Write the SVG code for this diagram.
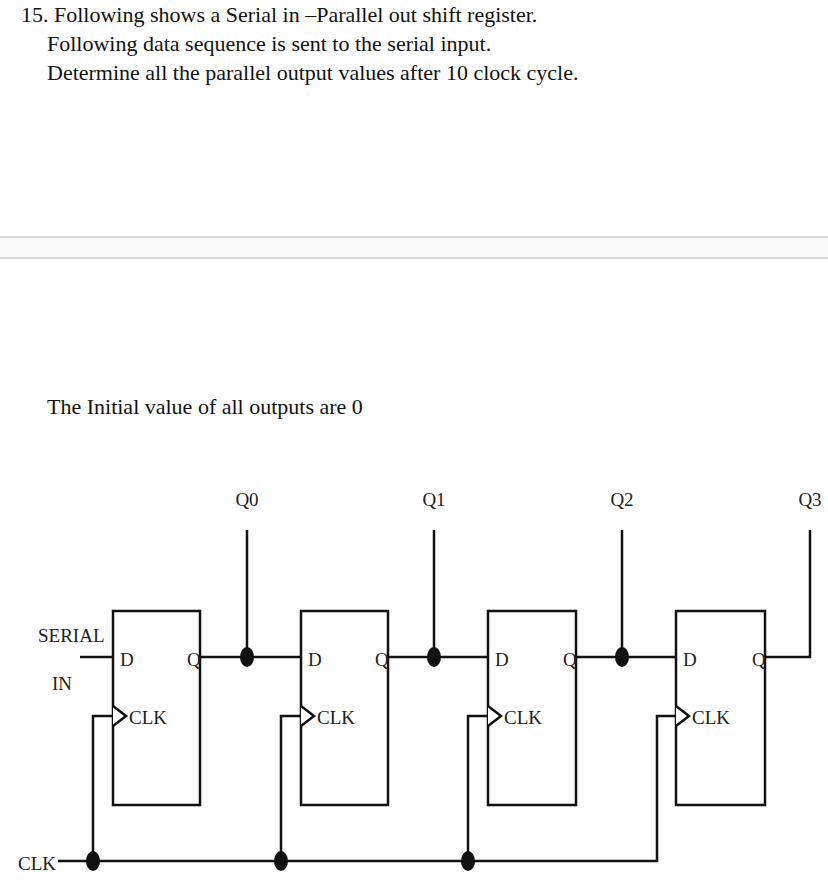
<svg xmlns="http://www.w3.org/2000/svg" width="828" height="880" viewBox="0 0 828 880">
<style>
.t{font-family:"Liberation Serif",serif;font-size:22px;fill:#111}
.l{font-family:"Liberation Serif",serif;font-size:19px;fill:#222}
.w{stroke:#111;stroke-width:2.5;fill:none}
.b{stroke:#111;stroke-width:2.5;fill:#fff}
.d{fill:#111}
</style>
<rect width="828" height="880" fill="#fff"/>
<text class="t" x="21" y="22">15. Following shows a Serial in –Parallel out shift register.</text>
<text class="t" x="47" y="51">Following data sequence is sent to the serial input.</text>
<text class="t" x="47" y="80">Determine all the parallel output values after 10 clock cycle.</text>
<rect x="0" y="237" width="828" height="21" fill="#fbfbfb"/>
<line x1="0" y1="237" x2="828" y2="237" stroke="#ccc" stroke-width="1.5"/>
<line x1="0" y1="258" x2="828" y2="258" stroke="#ccc" stroke-width="1.5"/>
<text class="t" x="47" y="414">The Initial value of all outputs are 0</text>
<g id="connectors">
<path class="w" d="M80 657H113 M200 657H301 M388 657H488 M576 657H676 M765 657H810V530 M247 657V530 M434 657V530 M622 657V530"/>
<path class="w" d="M58 861H657V716H676 M93 861V716H113 M281 861V716H301 M468 861V716H488" stroke-width="3"/>
<ellipse class="d" cx="247" cy="657" rx="7" ry="10"/>
<ellipse class="d" cx="434" cy="657" rx="7" ry="10"/>
<ellipse class="d" cx="622" cy="657" rx="7" ry="10"/>
<ellipse class="d" cx="93" cy="861" rx="7" ry="10"/>
<ellipse class="d" cx="281" cy="861" rx="7" ry="10"/>
<ellipse class="d" cx="468" cy="861" rx="7" ry="10"/>
</g>
<g id="ff0"><rect class="b" x="113" y="611" width="87" height="194"/><path class="b" d="M113 706L126 716L113 726"/><text class="l" x="120" y="666">D</text><text class="l" x="187" y="666">Q</text><text class="l" x="129" y="724">CLK</text></g>
<g id="ff1"><rect class="b" x="301" y="611" width="87" height="194"/><path class="b" d="M301 706L314 716L301 726"/><text class="l" x="308" y="666">D</text><text class="l" x="375" y="666">Q</text><text class="l" x="317" y="724">CLK</text></g>
<g id="ff2"><rect class="b" x="488" y="611" width="88" height="194"/><path class="b" d="M488 706L501 716L488 726"/><text class="l" x="495" y="666">D</text><text class="l" x="563" y="666">Q</text><text class="l" x="504" y="724">CLK</text></g>
<g id="ff3"><rect class="b" x="676" y="611" width="89" height="194"/><path class="b" d="M676 706L689 716L676 726"/><text class="l" x="683" y="666">D</text><text class="l" x="752" y="666">Q</text><text class="l" x="692" y="724">CLK</text></g>
<g id="labels">
<text class="l" x="247" y="506" text-anchor="middle">Q0</text>
<text class="l" x="434" y="506" text-anchor="middle">Q1</text>
<text class="l" x="622" y="506" text-anchor="middle">Q2</text>
<text class="l" x="810" y="506" text-anchor="middle">Q3</text>
<text class="l" x="38" y="642">SERIAL</text>
<text class="l" x="52" y="690">IN</text>
<text class="l" x="18" y="870">CLK</text>
</g>
</svg>
